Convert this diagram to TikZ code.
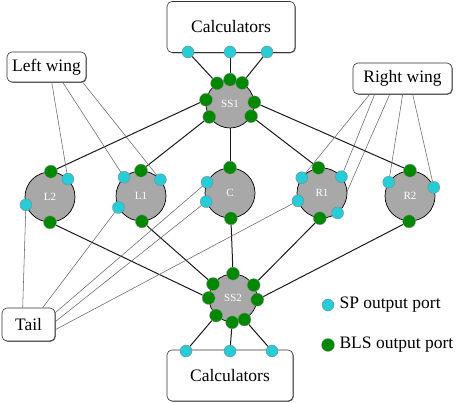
\documentclass[tikz,border=0pt]{standalone}
\usepackage{fontspec}
\setmainfont{Liberation Serif}
\usetikzlibrary{shadows,backgrounds}
\definecolor{spcyan}{RGB}{38,204,214}
\definecolor{blsgreen}{RGB}{0,136,0}
\definecolor{hubgray}{RGB}{168,168,168}

\begin{document}
\begin{tikzpicture}[x=1pt,y=-1pt,line cap=round]
	\tikzstyle{box}=[draw=black!80,fill=white,rounded corners=5pt,line width=0.6pt,inner sep=0pt,drop shadow={shadow xshift=0.8pt,shadow yshift=-0.8pt,fill=black!55,opacity=1},font=\fontsize{17.5}{20}\selectfont];
	\tikzstyle{hub}=[circle,draw=black,line width=0.7pt,fill=hubgray,minimum size=50pt,inner sep=0pt,text=white,font=\fontsize{11}{12}\selectfont];
	\tikzstyle{sp}=[circle,draw=black!50,line width=0.3pt,fill=spcyan,minimum size=12pt,inner sep=0pt];
	\tikzstyle{bls}=[circle,draw=black!40,line width=0.3pt,fill=blsgreen,minimum size=13pt,inner sep=0pt];
	\tikzstyle{link}=[draw=black!90,line width=1pt];
	\tikzstyle{wire}=[draw=black!60,line width=0.55pt];
	\tikzstyle{keytext}=[right,font=\fontsize{17.5}{20}\selectfont];

	\useasboundingbox (0,0) rectangle (474,403);

	% boxes
	\node[box,minimum width=128pt,minimum height=51pt] (calcT) at (231,27)    {Calculators};
	\node[box,minimum width=126pt,minimum height=51pt] (calcB) at (230,375.5) {Calculators};
	\node[box,minimum width=79pt,minimum height=30pt]  (lwing) at (46.5,67)   {Left wing};
	\node[box,minimum width=99pt,minimum height=31pt]  (rwing) at (402.5,78.5) {Right wing};
	\node[box,minimum width=53pt,minimum height=33pt]  (tail)  at (28.5,324.5) {Tail};

	% hubs
	\node[hub,minimum size=48pt] (ss1) at (230,104) {SS1};
	\node[hub,minimum size=48pt] (ss2) at (233,298) {SS2};
	\node[hub] (l2) at (50,197)  {L2};
	\node[hub] (l1) at (141,196) {L1};
	\node[hub] (c)  at (230,193) {C};
	\node[hub] (r1) at (322,193) {R1};
	\node[hub] (r2) at (410,196) {R2};

	% ports of the calculators
	\node[sp] (ct1) at (188,52) {};
	\node[sp] (ct2) at (230,52) {};
	\node[sp] (ct3) at (267,52) {};
	\node[sp] (cb1) at (186,351) {};
	\node[sp] (cb2) at (230,351) {};
	\node[sp] (cb3) at (272,351) {};

	% ports of SS1 and SS2
	\node[bls] (ss1a) at (ss1.122) {};
	\node[bls] (ss1b) at (ss1.90)  {};
	\node[bls] (ss1c) at (ss1.60)  {};
	\node[bls] (ss1d) at (ss1.170) {};
	\node[bls] (ss1e) at (ss1.212) {};
	\node[bls] (ss1f) at (ss1.4)   {};
	\node[bls] (ss1g) at (ss1.330) {};
	\node[bls] (ss2a) at (ss2.90)  {};
	\node[bls] (ss2b) at (ss2.32)  {};
	\node[bls] (ss2c) at (ss2.-4)  {};
	\node[bls] (ss2d) at (ss2.298) {};
	\node[bls] (ss2e) at (ss2.268) {};
	\node[bls] (ss2f) at (ss2.226) {};
	\node[bls] (ss2g) at (ss2.180) {};
	\node[bls] (ss2h) at (ss2.145) {};

	% ports of the wing and centre hubs
	\node[bls] (l2t) at (l2.88)  {};
	\node[sp]  (l2a) at (l2.45)  {};
	\node[sp]  (l2b) at (l2.198) {};
	\node[bls] (l2d) at (l2.270) {};
	\node[bls] (l1t) at (l1.90)  {};
	\node[sp]  (l1a) at (l1.132) {};
	\node[sp]  (l1b) at (l1.40)  {};
	\node[sp]  (l1c) at (l1.207) {};
	\node[bls] (l1d) at (l1.272) {};
	\node[bls] (ct)  at (c.90)   {};
	\node[sp]  (ca)  at (c.155)  {};
	\node[sp]  (cc)  at (c.200)  {};
	\node[bls] (cd)  at (c.272)  {};
	\node[bls] (r1t) at (r1.98)  {};
	\node[sp]  (r1a) at (r1.143) {};
	\node[sp]  (r1b) at (r1.40)  {};
	\node[sp]  (r1c) at (r1.198) {};
	\node[bls] (r1d) at (r1.265) {};
	\node[sp]  (r1e) at (r1.308) {};
	\node[bls] (r2t) at (r2.90)  {};
	\node[sp]  (r2a) at (r2.147) {};
	\node[sp]  (r2b) at (r2.20)  {};
	\node[bls] (r2d) at (r2.268) {};

	% key
	\node[sp]  (keysp)  at (328,305) {};
	\node[bls] (keybls) at (328,345) {};
	\node[keytext] (keysptxt)  at (336,305) {SP output port};
	\node[keytext] (keyblstxt) at (336,345) {BLS output port};

	\begin{scope}[on background layer]
	% backbone
	\draw[link] (ct1) -- (ss1a);
	\draw[link] (ct2) -- (ss1b);
	\draw[link] (ct3) -- (ss1c);
	\draw[link] (ss1d) -- (l2t);
	\draw[link] (ss1e) -- (l1t);
	\draw[link] (ss1) -- (ct);
	\draw[link] (ss1g) -- (r1t);
	\draw[link] (ss1f) -- (r2t);
	\draw[link] (l2d) -- (ss2g);
	\draw[link] (l1d) -- (ss2h);
	\draw[link] (cd) -- (ss2a);
	\draw[link] (r1d) -- (ss2b);
	\draw[link] (r2d) -- (ss2c);
	\draw[link] (ss2f) -- (cb1);
	\draw[link] (ss2e) -- (cb2);
	\draw[link] (ss2d) -- (cb3);
	% wings and tail
	\draw[wire] ([xshift=45pt]lwing.south west) -- (l2a);
	\draw[wire] ([xshift=56pt]lwing.south west) -- (l1a);
	\draw[wire] ([xshift=76pt]lwing.south west) -- (l1b);
	\draw[wire] ([xshift=17pt]rwing.south west) -- (r1a);
	\draw[wire] ([xshift=22pt]rwing.south west) -- (r1b);
	\draw[wire] ([xshift=37pt]rwing.south west) -- (r1e);
	\draw[wire] ([xshift=50pt]rwing.south west) -- (r2a);
	\draw[wire] ([xshift=60pt]rwing.south west) -- (r2b);
	\draw[wire] ([xshift=21pt]tail.north west) -- (l2b);
	\draw[wire] ([xshift=41pt]tail.north west) -- (l1c);
	\draw[wire] ([yshift=-5pt]tail.north east) -- (ca);
	\draw[wire] ([yshift=-14pt]tail.north east) -- (cc);
	\draw[wire] ([yshift=-22pt]tail.north east) -- (r1c);
	\end{scope}
\end{tikzpicture}
\end{document}
